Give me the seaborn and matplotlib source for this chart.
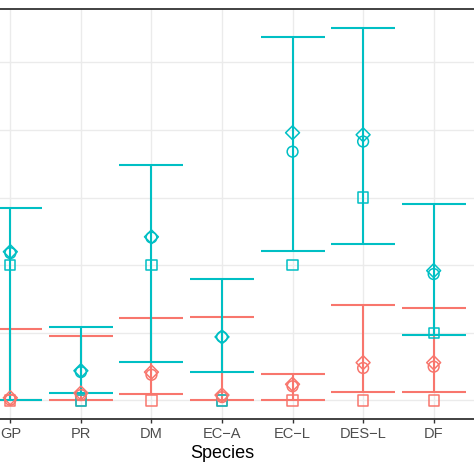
import numpy as np
import pandas as pd
import seaborn as sns
import matplotlib.pyplot as plt

species = ['GP', 'PR', 'DM', 'EC\u2212A', 'EC\u2212L', 'DES\u2212L', 'DF']
groups = ['red', 'teal']

# teal group
teal_low = [0.0, 0.11, 0.57, 0.42, 2.21, 2.32, 0.97]
teal_high = [2.84, 1.09, 3.49, 1.80, 5.37, 5.51, 2.90]
teal_square = [2.0, 0.0, 2.0, 0.0, 2.0, 3.0, 1.0]
teal_circle = [2.18, 0.42, 2.41, 0.94, 3.68, 3.83, 1.87]
teal_diamond = [2.20, 0.44, 2.42, 0.94, 3.96, 3.93, 1.92]

# red group
red_low = [0.0, 0.0, 0.10, 0.0, 0.0, 0.13, 0.13]
red_high = [1.06, 0.96, 1.22, 1.24, 0.39, 1.41, 1.37]
red_square = [0.0, 0.0, 0.0, 0.0, 0.0, 0.0, 0.0]
red_circle = [0.01, 0.08, 0.38, 0.05, 0.21, 0.48, 0.50]
red_diamond = [0.04, 0.11, 0.42, 0.08, 0.24, 0.56, 0.56]

palette = {'red': '#F8766D', 'teal': '#00BFC4'}

rows = []
for g, lo, hi, sq, ci, di in [('red', red_low, red_high, red_square, red_circle, red_diamond),
                              ('teal', teal_low, teal_high, teal_square, teal_circle, teal_diamond)]:
    for i, sp in enumerate(species):
        rows.append(dict(Species=sp, x=i, group=g, low=lo[i], high=hi[i],
                         square=sq[i], circle=ci[i], diamond=di[i]))
df = pd.DataFrame(rows)

sns.set_style('white')
plt.rcParams['font.family'] = ['Liberation Sans', 'DejaVu Sans']

fig = plt.figure(figsize=(4.74, 4.74), dpi=100)
ax = fig.add_axes([-32 / 474, 1 - 419 / 474, 508 / 474, 410 / 474])

# error bars
for g in groups:
    d = df[df.group == g]
    mid = (d.low + d.high) / 2
    ax.errorbar(d.x, mid, yerr=(d.high - d.low) / 2, fmt='none',
                ecolor=palette[g], elinewidth=1.5, capsize=23, capthick=1.5, zorder=3)

# points
for col, mk, s in [('square', 's', 55), ('circle', 'o', 60), ('diamond', 'D', 50)]:
    sns.scatterplot(data=df, x='x', y=col, hue='group', palette=palette, marker=mk,
                    s=s, ax=ax, legend=False, zorder=4)
    coll = ax.collections[-1]
    fc = coll.get_facecolors()
    coll.set_edgecolors(fc)
    coll.set_facecolors('none')
    coll.set_linewidths(1.1)

ax.set_xlim(-0.6, 6.6)
ax.set_ylim(-0.274, 5.79)
ax.set_xticks(range(len(species)))
ax.set_xticklabels(species)
ax.set_yticks(range(6))
ax.set_yticklabels([])
ax.grid(True, color='#EBEBEB', linewidth=1.0, zorder=0)
ax.set_axisbelow(True)
for side in ['top', 'bottom', 'left', 'right']:
    ax.spines[side].set_color('#333333')
    ax.spines[side].set_linewidth(1.3)
ax.tick_params(axis='x', length=3, width=1.0, color='#333333', pad=3,
               labelsize=10.5, labelcolor='#4D4D4D', bottom=True)
ax.tick_params(axis='y', left=False)
ax.set_xlabel('Species', fontsize=13, color='black', labelpad=3)
ax.set_ylabel('')

fig.savefig('out.png', dpi=100)
